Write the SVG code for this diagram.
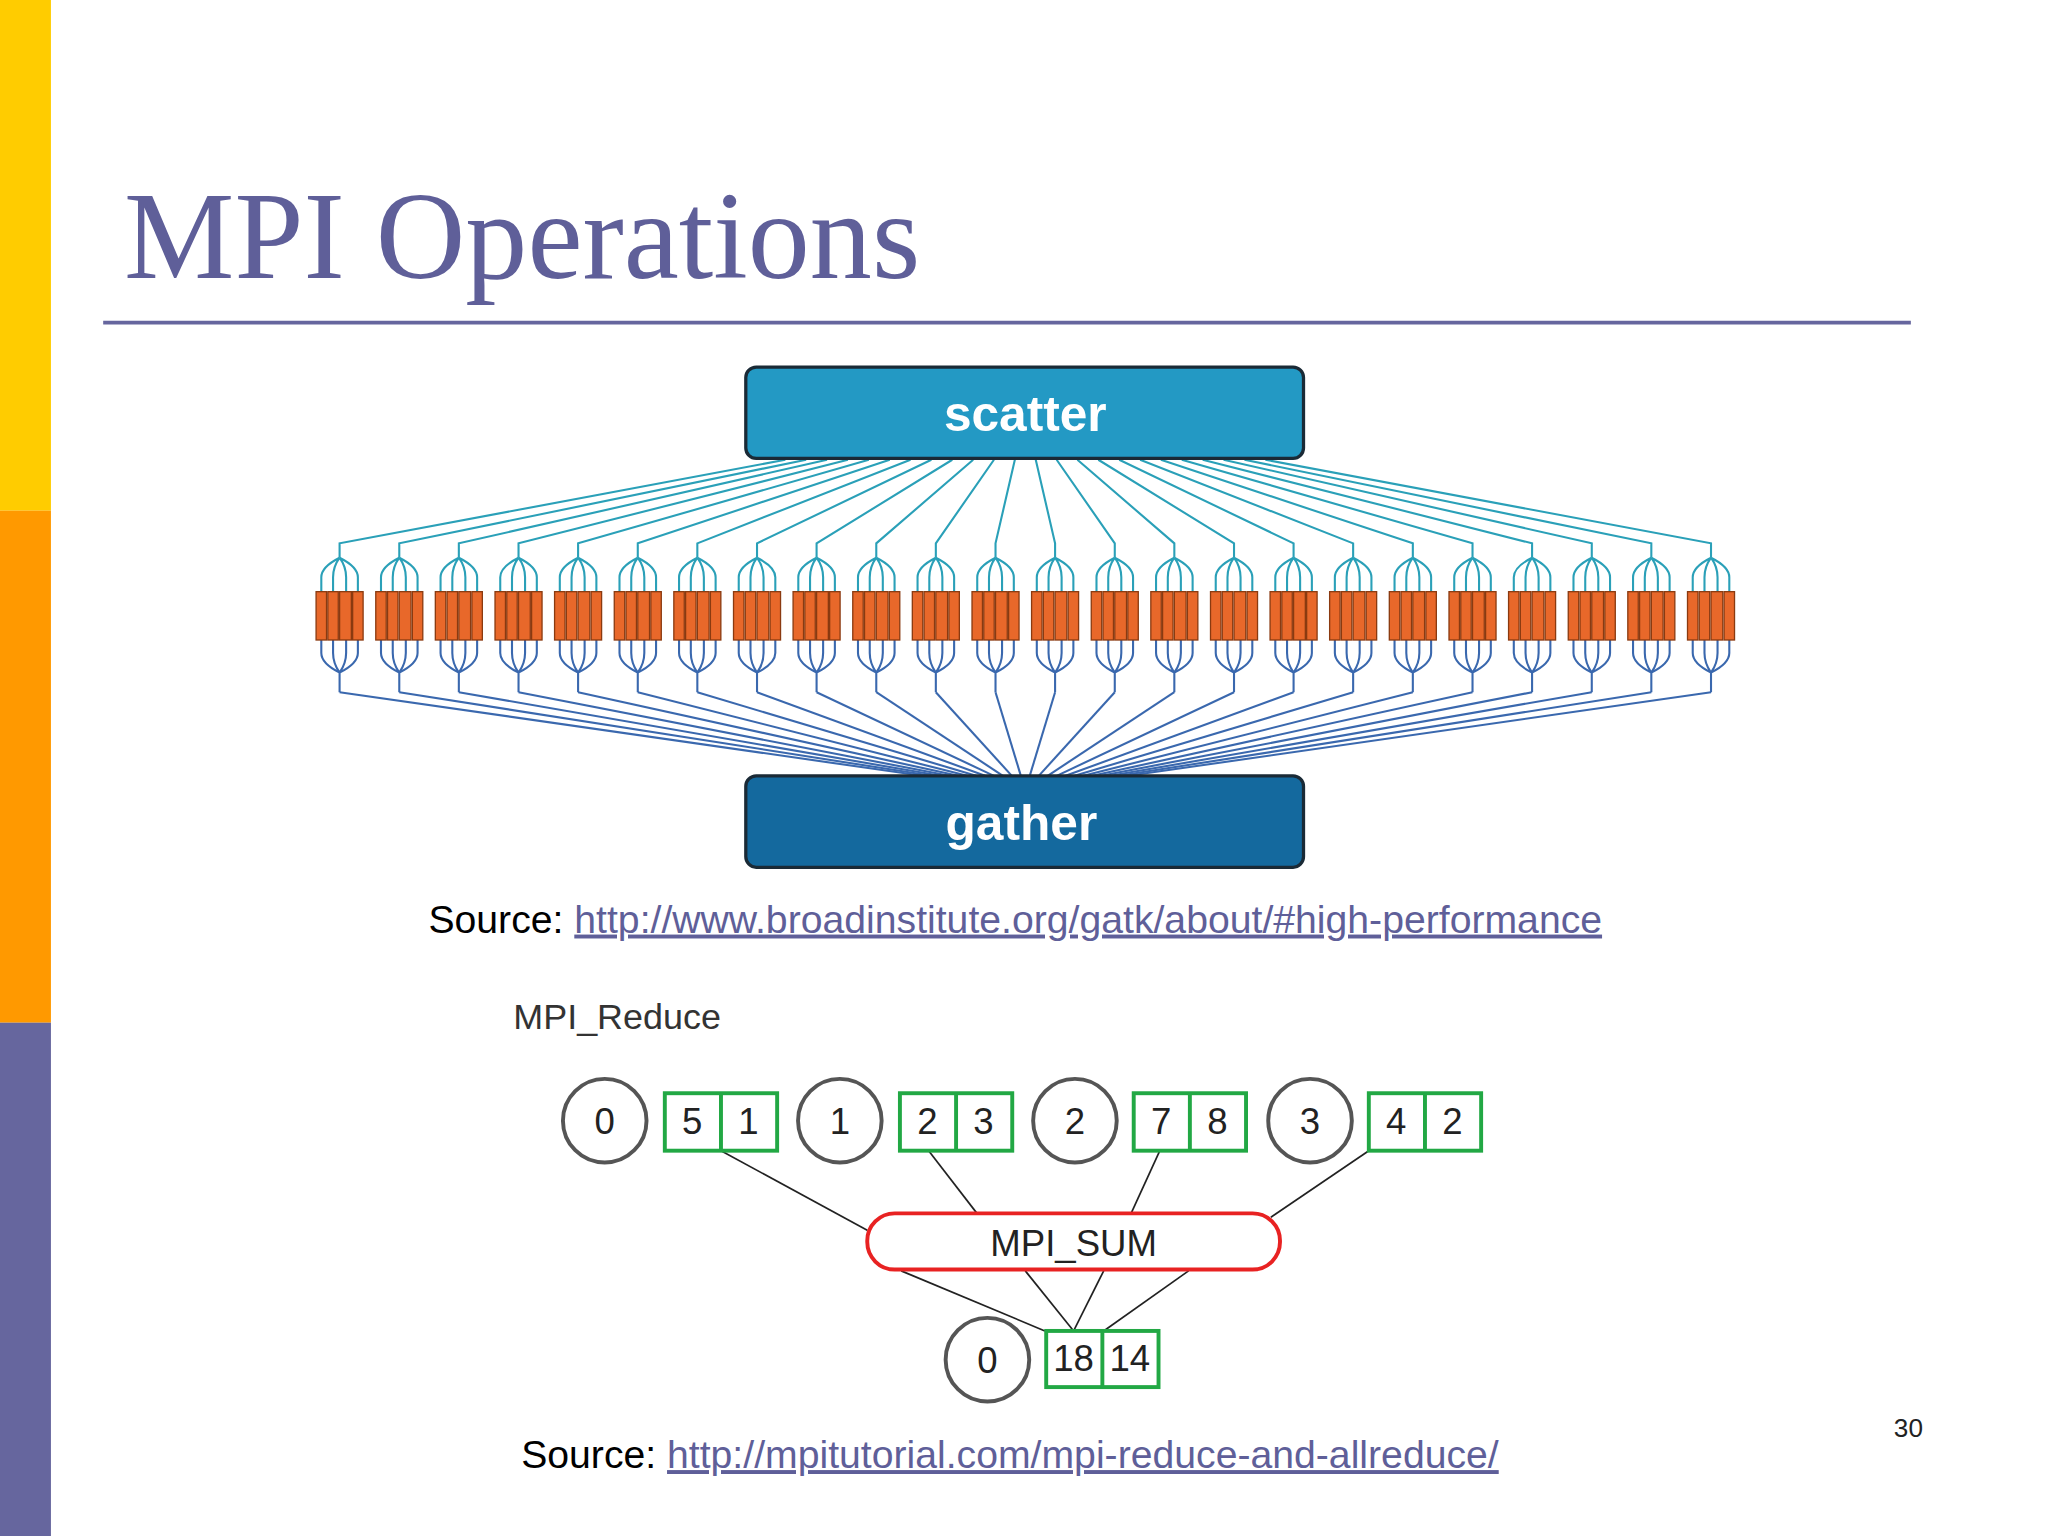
<svg xmlns="http://www.w3.org/2000/svg" xmlns:xlink="http://www.w3.org/1999/xlink" width="2048" height="1536" viewBox="0 0 2048 1536">
<style>
.sc{fill:none;stroke:#2AA0B8;stroke-width:1.6}
.ga{fill:none;stroke:#3A68AE;stroke-width:1.6}
.bar{fill:#E8682A;stroke:#8A3A10;stroke-width:1}
.lbl{font-family:"Liberation Sans",Arial,sans-serif}
.num{font-family:"Liberation Sans",Arial,sans-serif;font-size:28px;fill:#222;text-anchor:middle}
.circ{fill:#fff;stroke:#555;stroke-width:3}
.gb{fill:#fff;stroke:#22A844;stroke-width:3}
.ln{stroke:#222;stroke-width:1.3;fill:none}
.link{fill:#5F5F99;text-decoration:underline}
</style>
<defs>
<g id="unit">
<path class="sc" d="M0,427 Q-14,434 -14,442 L-14,453 M0,427 Q-5,434 -5,442 L-5,453 M0,427 Q5,434 5,442 L5,453 M0,427 Q14,434 14,442 L14,453"/>
<path class="ga" d="M0,515 Q-14,508 -14,500 L-14,490 M0,515 Q-5,508 -5,500 L-5,490 M0,515 Q5,508 5,500 L5,490 M0,515 Q14,508 14,500 L14,490 M0,515 L0,530"/>
<rect class="bar" x="-18" y="453" width="8" height="37"/>
<rect class="bar" x="-9" y="453" width="8" height="37"/>
<rect class="bar" x="0" y="453" width="9" height="37"/>
<rect class="bar" x="10" y="453" width="8" height="37"/>
</g>
</defs>
<rect width="2048" height="1536" fill="#fff"/>
<g transform="scale(1.30612)">
<rect x="0" y="0" width="39" height="391" fill="#FFCC00"/>
<rect x="0" y="391" width="39" height="392" fill="#FF9900"/>
<rect x="0" y="783" width="39" height="393" fill="#66669E"/>
<text x="95" y="213" font-family="Liberation Serif,serif" font-size="95" fill="#5F5F99">MPI Operations</text>
<line x1="79" y1="247" x2="1463" y2="247" stroke="#66669E" stroke-width="3"/>
<g id="connectors">
<g class="sc">
<polyline points="260,427 260,416 601.3,352"/><polyline points="305.7,427 305.7,416 617.2,352"/><polyline points="351.3,427 351.3,416 633.2,352"/><polyline points="397,427 397,416 649.2,352"/><polyline points="442.6,427 442.6,416 665.2,352"/><polyline points="488.3,427 488.3,416 681.2,352"/><polyline points="533.9,427 533.9,416 697.1,352"/><polyline points="579.6,427 579.6,416 713.1,352"/><polyline points="625.2,427 625.2,416 729.1,352"/><polyline points="670.9,427 670.9,416 745.1,352"/><polyline points="716.5,427 716.5,416 761,352"/><polyline points="762.2,427 762.2,416 777,352"/><polyline points="807.8,427 807.8,416 793,352"/><polyline points="853.5,427 853.5,416 809,352"/><polyline points="899.1,427 899.1,416 824.9,352"/><polyline points="944.8,427 944.8,416 840.9,352"/><polyline points="990.4,427 990.4,416 856.9,352"/><polyline points="1036,427 1036,416 872.9,352"/><polyline points="1081.7,427 1081.7,416 888.8,352"/><polyline points="1127.4,427 1127.4,416 904.8,352"/><polyline points="1173,427 1173,416 920.8,352"/><polyline points="1218.7,427 1218.7,416 936.8,352"/><polyline points="1264.3,427 1264.3,416 952.8,352"/><polyline points="1310,427 1310,416 968.8,352"/>
</g>
<g class="ga">
<line x1="260" y1="530" x2="706.3" y2="594"/><line x1="305.7" y1="530" x2="713.1" y2="594"/><line x1="351.3" y1="530" x2="720" y2="594"/><line x1="397" y1="530" x2="726.8" y2="594"/><line x1="442.6" y1="530" x2="733.6" y2="594"/><line x1="488.3" y1="530" x2="740.5" y2="594"/><line x1="533.9" y1="530" x2="747.3" y2="594"/><line x1="579.6" y1="530" x2="754.2" y2="594"/><line x1="625.2" y1="530" x2="761" y2="594"/><line x1="670.9" y1="530" x2="767.9" y2="594"/><line x1="716.5" y1="530" x2="774.7" y2="594"/><line x1="762.2" y1="530" x2="781.6" y2="594"/><line x1="807.8" y1="530" x2="788.4" y2="594"/><line x1="853.5" y1="530" x2="795.3" y2="594"/><line x1="899.1" y1="530" x2="802.1" y2="594"/><line x1="944.8" y1="530" x2="809" y2="594"/><line x1="990.4" y1="530" x2="815.8" y2="594"/><line x1="1036" y1="530" x2="822.7" y2="594"/><line x1="1081.7" y1="530" x2="829.5" y2="594"/><line x1="1127.4" y1="530" x2="836.4" y2="594"/><line x1="1173" y1="530" x2="843.2" y2="594"/><line x1="1218.7" y1="530" x2="850.1" y2="594"/><line x1="1264.3" y1="530" x2="856.9" y2="594"/><line x1="1310" y1="530" x2="863.8" y2="594"/>
</g>
<g class="ln">
<line x1="552" y1="881" x2="664" y2="942"/><line x1="711" y1="881" x2="748" y2="929"/><line x1="888" y1="881" x2="866" y2="929"/><line x1="1048" y1="881" x2="973" y2="932"/>
<line x1="690" y1="973" x2="800" y2="1019"/><line x1="785" y1="973" x2="822" y2="1019"/><line x1="845" y1="973" x2="822" y2="1019"/><line x1="910" y1="973" x2="845" y2="1019"/>
</g>
</g>
<g id="scatter"><rect x="571" y="281" width="427" height="70" rx="8" fill="#2399C4" stroke="#1A2A36" stroke-width="2.5"/><text class="lbl" x="785" y="330" font-size="38" font-weight="bold" fill="#fff" text-anchor="middle">scatter</text></g>
<g id="gather"><rect x="571" y="594" width="427" height="70" rx="8" fill="#14699E" stroke="#1A2A36" stroke-width="2.5"/><text class="lbl" x="782" y="643" font-size="38" font-weight="bold" fill="#fff" text-anchor="middle">gather</text></g>
<g id="units">
<use href="#unit" x="260"/><use href="#unit" x="305.7"/><use href="#unit" x="351.3"/><use href="#unit" x="397"/><use href="#unit" x="442.6"/><use href="#unit" x="488.3"/><use href="#unit" x="533.9"/><use href="#unit" x="579.6"/><use href="#unit" x="625.2"/><use href="#unit" x="670.9"/><use href="#unit" x="716.5"/><use href="#unit" x="762.2"/><use href="#unit" x="807.8"/><use href="#unit" x="853.5"/><use href="#unit" x="899.1"/><use href="#unit" x="944.8"/><use href="#unit" x="990.4"/><use href="#unit" x="1036"/><use href="#unit" x="1081.7"/><use href="#unit" x="1127.4"/><use href="#unit" x="1173"/><use href="#unit" x="1218.7"/><use href="#unit" x="1264.3"/><use href="#unit" x="1310"/>
</g>
<text class="lbl" x="328" y="714" font-size="30" fill="#000">Source: <tspan class="link">http://www.broadinstitute.org/gatk/about/#high-performance</tspan></text>
<text class="lbl" x="393" y="788" font-size="27.5" fill="#333">MPI_Reduce</text>
<g id="p0"><circle class="circ" cx="463" cy="858" r="32"/><text class="num" x="463" y="868">0</text></g>
<g id="b0"><rect class="gb" x="509" y="837" width="86" height="44"/><line x1="552" y1="837" x2="552" y2="881" stroke="#22A844" stroke-width="3"/><text class="num" x="530" y="868">5</text><text class="num" x="573" y="868">1</text></g>
<g id="p1"><circle class="circ" cx="643" cy="858" r="32"/><text class="num" x="643" y="868">1</text></g>
<g id="b1"><rect class="gb" x="689" y="837" width="86" height="44"/><line x1="732" y1="837" x2="732" y2="881" stroke="#22A844" stroke-width="3"/><text class="num" x="710" y="868">2</text><text class="num" x="753" y="868">3</text></g>
<g id="p2"><circle class="circ" cx="823" cy="858" r="32"/><text class="num" x="823" y="868">2</text></g>
<g id="b2"><rect class="gb" x="868" y="837" width="86" height="44"/><line x1="911" y1="837" x2="911" y2="881" stroke="#22A844" stroke-width="3"/><text class="num" x="889" y="868">7</text><text class="num" x="932" y="868">8</text></g>
<g id="p3"><circle class="circ" cx="1003" cy="858" r="32"/><text class="num" x="1003" y="868">3</text></g>
<g id="b3"><rect class="gb" x="1048" y="837" width="86" height="44"/><line x1="1091" y1="837" x2="1091" y2="881" stroke="#22A844" stroke-width="3"/><text class="num" x="1069" y="868">4</text><text class="num" x="1112" y="868">2</text></g>
<g id="sum"><rect x="664" y="929" width="316" height="43" rx="21" fill="#fff" stroke="#E82222" stroke-width="3"/><text class="num" x="822" y="962">MPI_SUM</text></g>
<g id="pr"><circle class="circ" cx="756" cy="1041" r="32"/><text class="num" x="756" y="1051">0</text></g>
<g id="br"><rect class="gb" x="801" y="1019" width="86" height="43"/><line x1="844" y1="1019" x2="844" y2="1062" stroke="#22A844" stroke-width="3"/><text class="num" x="822" y="1050">18</text><text class="num" x="865" y="1050">14</text></g>
<text class="lbl" x="399" y="1124" font-size="30" fill="#000">Source: <tspan class="link">http://mpitutorial.com/mpi-reduce-and-allreduce/</tspan></text>
<text class="lbl" x="1450" y="1100" font-size="20" fill="#222">30</text>
</g>
</svg>
